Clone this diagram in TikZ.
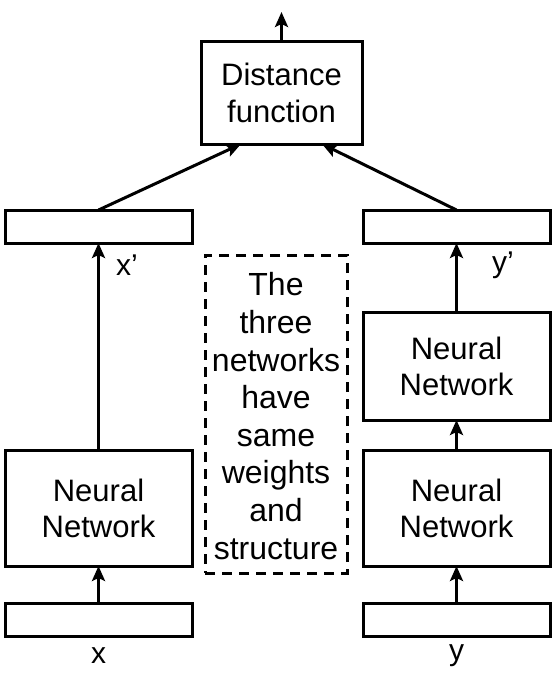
\documentclass[tikz,border=0pt]{standalone}
\usepackage{fontspec}
\setmainfont{Liberation Sans}
\usetikzlibrary{arrows.meta}
\begin{document}
\begin{tikzpicture}[x=1pt,y=-1pt,
  every node/.style={inner sep=0pt,outer sep=0pt},
  box/.style={draw,line width=3pt,minimum width=187pt,align=center,font=\fontsize{31}{36}\selectfont},
  bar/.style={box,minimum height=33pt},
  lab/.style={font=\fontsize{30}{34}\selectfont},
  arr/.style={line width=3pt,-{Stealth[length=15pt,width=13pt,inset=3pt]}}]
\useasboundingbox (0,0) rectangle (558,689);
\node[box,minimum width=161pt,minimum height=103pt,font=\fontsize{31}{37}\selectfont] (dist) at (281.5,92.5) {Distance\\function};
\coordinate (out) at (281.5,12);
\node[bar] (lt) at (98.5,226.5) {};
\node[bar] (rt) at (456.5,226.5) {};
\node[box,minimum height=116pt] (lnn) at (98.5,508) {Neural\\Network};
\node[box,minimum height=116pt] (rnn1) at (456.5,508) {Neural\\Network};
\node[box,minimum height=108pt] (rnn2) at (456.5,366) {Neural\\Network};
\node[bar] (lb) at (98.5,619.5) {};
\node[bar] (rb) at (456.5,619.5) {};
\node[draw,line width=3pt,dash pattern=on 10pt off 7pt,minimum width=142pt,minimum height=318pt] (dash) at (276,414) {};
\node[align=center,font=\fontsize{32}{37.6}\selectfont] (txt) at (276,416) {The\\three\\networks\\have\\same\\weights\\and\\structure};
\node[lab] (xp) at (127,265) {x’};
\node[lab] (yp) at (503,265) {y’};
\node[lab] (x) at (98.5,656) {x};
\node[lab] (y) at (456.5,656) {y};
\draw[arr] (dist.north) -- (out);
\draw[arr] (lt.north) -- (dist.south west -| 241,0);
\draw[arr] (rt.north) -- (dist.south east -| 322,0);
\draw[arr] (lnn.north) -- (lt.south);
\draw[arr] (lb.north) -- (lnn.south);
\draw[arr] (rb.north) -- (rnn1.south);
\draw[arr] (rnn1.north) -- (rnn2.south);
\draw[arr] (rnn2.north) -- (rt.south);
\end{tikzpicture}
\end{document}
